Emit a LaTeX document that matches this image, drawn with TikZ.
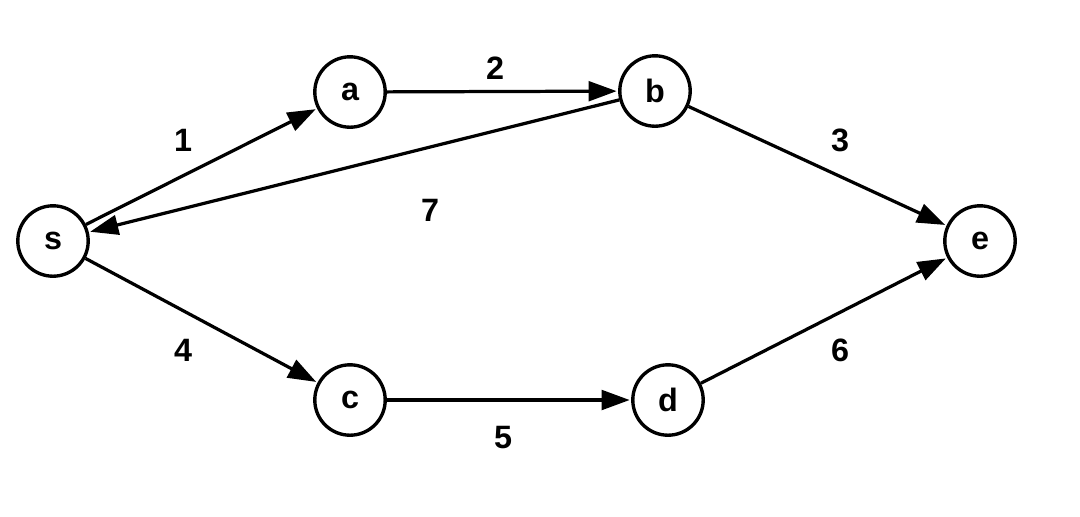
\documentclass[tikz,border=0pt]{standalone}
\usepackage{fontspec}
\setmainfont{Liberation Sans}
\usetikzlibrary{arrows.meta}
\begin{document}
\begin{tikzpicture}[x=0.025cm,y=-0.025cm,
  vert/.style={circle,draw,line width=2.4pt,minimum size=1.76cm,inner sep=0pt,font=\fontsize{23}{23}\selectfont\bfseries},
  edge/.style={line width=2.3pt,-{Triangle[length=20pt,width=14pt]},shorten >=1pt},
  wt/.style={font=\fontsize{23}{23}\selectfont\bfseries}]
\useasboundingbox (0,0) rectangle (1080,516);
\node[vert] (s) at (53,241) {s};
\node[vert] (a) at (350,92) {a};
\node[vert] (b) at (655,91) {b};
\node[vert] (e) at (980,241) {e};
\node[vert] (c) at (350,400) {c};
\node[vert] (d) at (668,400) {d};
\draw[edge] (s) -- (a);
\draw[edge] (a) -- (b);
\draw[edge] (b) -- (e);
\draw[edge] (b) -- (s);
\draw[edge] (s) -- (c);
\draw[edge] (c) -- (d);
\draw[edge] (d) -- (e);
\node[wt] (w1) at (183,140) {1};
\node[wt] (w2) at (495,68) {2};
\node[wt] (w3) at (840,140) {3};
\node[wt] (w7) at (430,210) {7};
\node[wt] (w4) at (183,350) {4};
\node[wt] (w5) at (503,438) {5};
\node[wt] (w6) at (840,350) {6};
\end{tikzpicture}
\end{document}
